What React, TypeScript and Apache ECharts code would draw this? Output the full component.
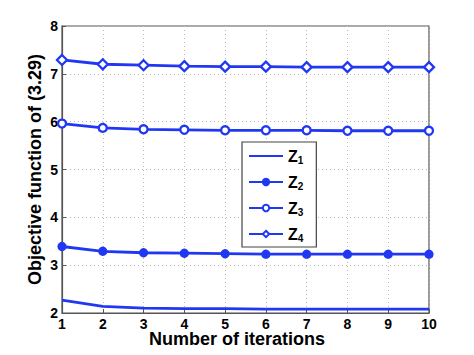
import React, { useEffect, useRef } from "react";
import * as echarts from "echarts";

const iterations = [1, 2, 3, 4, 5, 6, 7, 8, 9, 10];
const z1 = [2.27, 2.14, 2.10, 2.09, 2.09, 2.08, 2.08, 2.08, 2.08, 2.08];
const z2 = [3.39, 3.29, 3.26, 3.25, 3.24, 3.23, 3.23, 3.23, 3.23, 3.23];
const z3 = [5.96, 5.87, 5.84, 5.83, 5.82, 5.82, 5.82, 5.81, 5.81, 5.81];
const z4 = [7.29, 7.20, 7.18, 7.16, 7.15, 7.15, 7.14, 7.14, 7.14, 7.14];
const seriesNames = ["Z1", "Z2", "Z3", "Z4"];
const xTitle = "Number of iterations";
const yTitle = "Objective function of (3.29)";

const BLUE = "#2138f2";
const FONT = "'Liberation Sans', Arial, sans-serif";

export default function App() {
  const ref = useRef<HTMLDivElement>(null);
  useEffect(() => {
    const chart = echarts.init(ref.current!, null, { renderer: "svg" });
    const pair = (vals: number[]) => iterations.map((x, i) => [x, vals[i]]);
    const mk = (name: string, vals: number[], symbol: string, size: number, fill: string) => ({
      type: "line",
      name,
      data: pair(vals),
      symbol,
      symbolSize: size,
      showSymbol: symbol !== "none",
      color: BLUE,
      lineStyle: { color: BLUE, width: 2.8, type: "solid" },
      itemStyle: { color: fill, borderColor: BLUE, borderWidth: 2.3, borderType: "solid" },
      emphasis: { disabled: true },
    });
    chart.setOption({
      animation: false,
      grid: {
        left: 62, right: 45, top: 26, bottom: 42,
        outerBoundsMode: "none", containLabel: false,
        show: true, borderColor: "#555", borderWidth: 1.2, backgroundColor: "transparent",
      },
      graphic: [
        {
          type: "text",
          left: "center",
          top: 330,
          style: {
            text: xTitle,
            fontFamily: FONT,
            fontWeight: "bold",
            fontSize: 18,
            lineHeight: 16,
            fill: "#000",
          },
        },
      ],
      xAxis: {
        type: "value",
        min: 1,
        max: 10,
        interval: 1,
        axisLine: { lineStyle: { color: "#555", width: 1.2 } },
        axisTick: { inside: true, length: 4, lineStyle: { color: "#555" } },
        axisLabel: { fontFamily: FONT, fontWeight: "bold", fontSize: 14, lineHeight: 12, color: "#000", margin: 5 },
        splitLine: { show: true, lineStyle: { color: "#b8b8b8", type: [1, 3], width: 1 } },
      },
      yAxis: {
        type: "value",
        min: 2,
        max: 8,
        interval: 1,
        name: yTitle,
        nameLocation: "middle",
        nameGap: 18,
        nameMoveOverlap: false,
        nameTextStyle: { fontFamily: FONT, fontWeight: "bold", fontSize: 18, color: "#000" },
        axisLine: { show: true, lineStyle: { color: "#555", width: 1.2 } },
        axisTick: { show: true, inside: true, length: 4, lineStyle: { color: "#555" } },
        axisLabel: { fontFamily: FONT, fontWeight: "bold", fontSize: 14, color: "#000", margin: 4 },
        splitLine: { show: true, lineStyle: { color: "#b8b8b8", type: [1, 3], width: 1 } },
      },
      legend: {
        orient: "vertical",
        left: 242,
        top: 142,
        itemWidth: 34,
        itemHeight: 8,
        itemGap: 9,
        padding: [6, 13, 4, 6],
        borderColor: "#444",
        borderWidth: 1.2,
        backgroundColor: "#fff",
        data: [
          { name: seriesNames[0], itemStyle: { opacity: 0 } },
          seriesNames[1],
          seriesNames[2],
          seriesNames[3],
        ],
        formatter: (n: string) => `{z|Z}{s|${n.slice(1)}}`,
        textStyle: {
          rich: {
            z: { fontFamily: FONT, fontWeight: "bold", fontSize: 16, color: "#000" },
            s: { fontFamily: FONT, fontWeight: "bold", fontSize: 10, color: "#000", padding: [8, 0, 0, 0] },
          },
        },
      },
      series: [
        mk("Z1", z1, "none", 0, BLUE),
        mk("Z2", z2, "circle", 7, BLUE),
        mk("Z3", z3, "circle", 8, "#ffffff"),
        mk("Z4", z4, "diamond", 10, "#ffffff"),
      ],
    });
    return () => chart.dispose();
  }, []);
  return <div ref={ref} style={{ width: 474, height: 355, margin: -8 }} />;
}
